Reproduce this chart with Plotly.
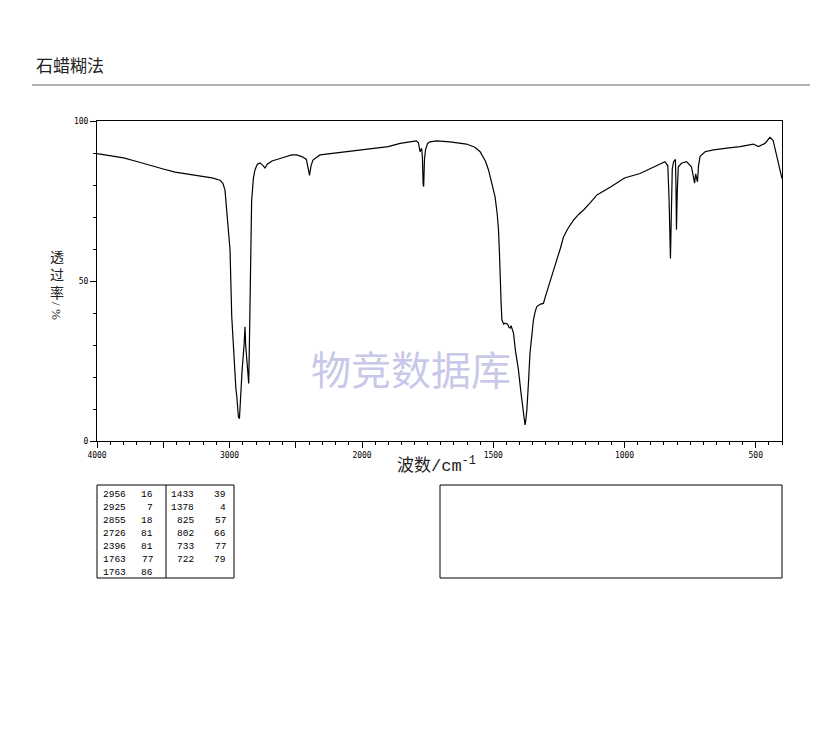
import plotly.graph_objects as go

# ---- data ----
wavenumber = [4000, 3900, 3800, 3713, 3600, 3500, 3411, 3300, 3200, 3132, 3072, 3050, 3034, 3015,
              2996, 2983, 2970, 2964, 2958, 2952, 2945, 2933, 2925, 2918, 2905, 2890, 2883, 2878,
              2868, 2858, 2855, 2850, 2845, 2833, 2820, 2808, 2790, 2770, 2745, 2732, 2715, 2680,
              2600, 2530, 2493, 2450, 2420, 2405, 2396, 2385, 2370, 2317, 2200, 2100, 2000, 1900,
              1855, 1793, 1785, 1779, 1773, 1770, 1767, 1765, 1762, 1758, 1750, 1741, 1716, 1665,
              1602, 1570, 1550, 1530, 1518, 1505, 1493, 1485, 1480, 1476, 1474, 1470, 1467, 1460,
              1455, 1445, 1440, 1436, 1432, 1428, 1423, 1415, 1404, 1395, 1385, 1379, 1376, 1372,
              1366, 1360, 1353, 1347, 1340, 1334, 1320, 1309, 1300, 1290, 1284, 1270, 1258, 1245,
              1232, 1215, 1194, 1175, 1156, 1130, 1105, 1050, 1000, 941, 890, 860, 846, 835,
              830, 825, 822, 818, 813, 806, 804, 802, 799, 795, 783, 764, 745, 738,
              733, 729, 725, 722, 718, 712, 693, 661, 610, 560, 509, 490, 465, 446,
              434, 415, 402, 400]
transmittance = [89.8, 89.2, 88.5, 87.5, 86.3, 85.0, 84.0, 83.3, 82.8, 82.2, 81.5, 80.5, 78.4, 70.0,
                 59.7, 38.8, 28.0, 23.2, 17.0, 16.5, 14.0, 7.6, 7.0, 14.0, 22.0, 30.0, 35.7, 30.0,
                 24.0, 19.0, 18.0, 30.0, 49.0, 75.0, 82.0, 84.7, 86.5, 86.9, 86.0, 85.3, 86.5, 87.5,
                 88.5, 89.4, 89.4, 88.8, 88.0, 84.2, 83.0, 86.0, 87.8, 89.4, 90.0, 90.5, 91.0, 92.0,
                 93.0, 93.8, 93.2, 90.4, 91.5, 89.0, 80.0, 79.5, 88.0, 91.0, 93.0, 93.5, 93.8, 93.5,
                 92.8, 91.8, 90.4, 87.5, 84.7, 80.5, 76.3, 71.0, 66.0, 58.0, 50.3, 43.0, 37.8, 36.5,
                 36.8, 36.5, 35.5, 35.3, 36.0, 34.5, 33.7, 28.0, 22.2, 15.5, 8.8, 5.0, 6.5, 9.7,
                 18.0, 27.5, 33.0, 37.8, 40.5, 42.0, 42.8, 43.0, 45.5, 48.2, 50.3, 53.5, 56.6, 60.0,
                 63.8, 66.5, 69.0, 70.8, 72.2, 74.5, 76.9, 79.5, 82.2, 83.6, 85.7, 86.8, 87.3, 86.0,
                 75.0, 57.0, 72.0, 85.0, 87.3, 88.0, 80.0, 66.0, 78.0, 85.7, 86.8, 87.3, 85.7, 83.0,
                 80.6, 83.5, 82.0, 81.0, 86.0, 89.0, 90.4, 91.0, 91.5, 92.0, 92.8, 92.0, 93.0, 94.9,
                 94.0, 86.8, 82.6, 82.0]

peak_wn = [2956, 2925, 2855, 2726, 2396, 1763, 1763, 1433, 1378, 825, 802, 733, 722]
peak_t = [16, 7, 18, 81, 81, 77, 86, 39, 4, 57, 66, 77, 79]

x_tick_values = [4000, 3000, 2000, 1500, 1000, 500]
x_tick_labels = ["4000", "3000", "2000", "1500", "1000", "500"]
x_unlabeled_major = [3500, 2500]
y_tick_values = [0, 50, 100]
y_tick_labels = ["0", "50", "100"]

title_text = "石蜡糊法"
watermark_text = "物竞数据库"
y_label_chars = ["透", "过", "率"]
y_label_unit = ["/", "%"]


# piecewise IR axis: 4000-2000 compressed, 2000-400 expanded
def to_u(w):
    return (4000 - w) * 0.50476 if w >= 2000 else 1009.5 + (2000 - w)


u_data = [to_u(w) for w in wavenumber]
minor_w = [w for w in range(4000, 1999, -100)] + [w for w in range(1950, 399, -50)]
minor_w = [w for w in minor_w if w not in x_tick_values + x_unlabeled_major]

# the page body adds an 8px offset; work in window pixels and subtract it
OFF = 8
W, H = 822 - OFF, 737 - OFF
L, R, T, B = 97 - OFF, 782 - OFF, 121 - OFF, 441 - OFF


def px(xp):
    return (xp - OFF - L) / (R - L)


def py(yp):
    return (B - (yp - OFF)) / (B - T)


fig = go.Figure()
fig.add_trace(go.Scatter(x=u_data, y=transmittance, mode="lines",
                         line=dict(color="black", width=1.2), hoverinfo="skip"))
# invisible carrier trace for the overlay axis that draws the unlabeled major ticks
fig.add_trace(go.Scatter(x=[to_u(w) for w in x_unlabeled_major], y=[None, None], xaxis="x2",
                         mode="lines", line=dict(width=0), hoverinfo="skip"))

tick_font = dict(family="DejaVu Sans Mono", size=8, color="black")
xr = [to_u(4000), to_u(400)]
fig.update_layout(
    width=W, height=H,
    margin=dict(l=L, r=W - R, t=T, b=H - B),
    paper_bgcolor="white", plot_bgcolor="white",
    showlegend=False,
    xaxis=dict(range=xr, showgrid=False, zeroline=False,
               showline=True, mirror=True, linecolor="black", linewidth=1,
               tickmode="array", tickvals=[to_u(w) for w in x_tick_values], ticktext=x_tick_labels,
               ticks="outside", ticklen=6, tickcolor="black", tickwidth=1,
               tickfont=tick_font, automargin=False,
               minor=dict(tickmode="array", tickvals=[to_u(w) for w in minor_w],
                          ticks="outside", ticklen=3, tickcolor="black", showgrid=False)),
    xaxis2=dict(range=xr, overlaying="x", side="bottom", showgrid=False, zeroline=False,
                showline=False, tickmode="array", tickvals=[to_u(w) for w in x_unlabeled_major],
                ticks="outside", ticklen=6, tickcolor="black", tickwidth=1,
                showticklabels=False, automargin=False),
    yaxis=dict(range=[0, 100], showgrid=False, zeroline=False,
               showline=True, mirror=True, linecolor="black", linewidth=1,
               tickmode="array", tickvals=y_tick_values, ticktext=y_tick_labels,
               ticks="outside", ticklen=6, tickcolor="black", tickwidth=1,
               tickfont=tick_font, automargin=False,
               minor=dict(tickmode="array", tickvals=[10, 20, 30, 40, 60, 70, 80, 90],
                          ticks="outside", ticklen=3, tickcolor="black", showgrid=False)),
)

ann = []
cjk = "Noto Sans CJK SC"
ann.append(dict(x=px(34), y=py(65), xref="paper", yref="paper", text=title_text, showarrow=False,
                xanchor="left", yanchor="middle", font=dict(family=cjk, size=17, color="#222")))
ann.append(dict(x=px(436), y=py(465), xref="paper", yref="paper",
                text="波数/cm<sup>-1</sup>", showarrow=False, xanchor="center", yanchor="middle",
                font=dict(family="Liberation Mono, " + cjk, size=17, color="#222")))
ann.append(dict(x=px(57), y=py(274), xref="paper", yref="paper", text="<br>".join(y_label_chars),
                showarrow=False, xanchor="center", yanchor="middle",
                font=dict(family=cjk, size=14, color="#222")))
for k, ch in enumerate(y_label_unit):
    ann.append(dict(x=px(57), y=py(304 + 10 * k), xref="paper", yref="paper", text=ch,
                    textangle=90, showarrow=False, xanchor="center", yanchor="middle",
                    font=dict(family="Liberation Serif", size=13, color="#222")))
ann.append(dict(x=px(411), y=py(368), xref="paper", yref="paper", text=watermark_text,
                showarrow=False, xanchor="center", yanchor="middle",
                font=dict(family="Noto Sans CJK SC", size=40, color="rgba(190,190,230,0.85)")))

# peak table
row_y0, row_dy = 494, 13.0
tfont = dict(family="Liberation Mono", size=9.5, color="black")
for i, (w, t) in enumerate(zip(peak_wn, peak_t)):
    col = 0 if i < 7 else 1
    r = i if i < 7 else i - 7
    xw = 128 if col == 0 else 196
    xt = 155 if col == 0 else 228
    yy = row_y0 + r * row_dy
    ann.append(dict(x=px(xw), y=py(yy), xref="paper", yref="paper", text=str(w), showarrow=False,
                    xanchor="right", yanchor="middle", font=tfont))
    ann.append(dict(x=px(xt), y=py(yy), xref="paper", yref="paper", text=str(t), showarrow=False,
                    xanchor="right", yanchor="middle", font=tfont))
fig.update_layout(annotations=ann)

shapes = [
    dict(type="line", xref="paper", yref="paper", x0=px(32), x1=px(810), y0=py(85), y1=py(85),
         line=dict(color="#999999", width=1.5)),
    dict(type="rect", xref="paper", yref="paper", x0=px(97), x1=px(234), y0=py(485), y1=py(578),
         line=dict(color="black", width=1)),
    dict(type="line", xref="paper", yref="paper", x0=px(166), x1=px(166), y0=py(485), y1=py(578),
         line=dict(color="black", width=1)),
    dict(type="rect", xref="paper", yref="paper", x0=px(440), x1=px(782), y0=py(485), y1=py(578),
         line=dict(color="black", width=1)),
]
fig.update_layout(shapes=shapes)

fig.write_html("out.html")
